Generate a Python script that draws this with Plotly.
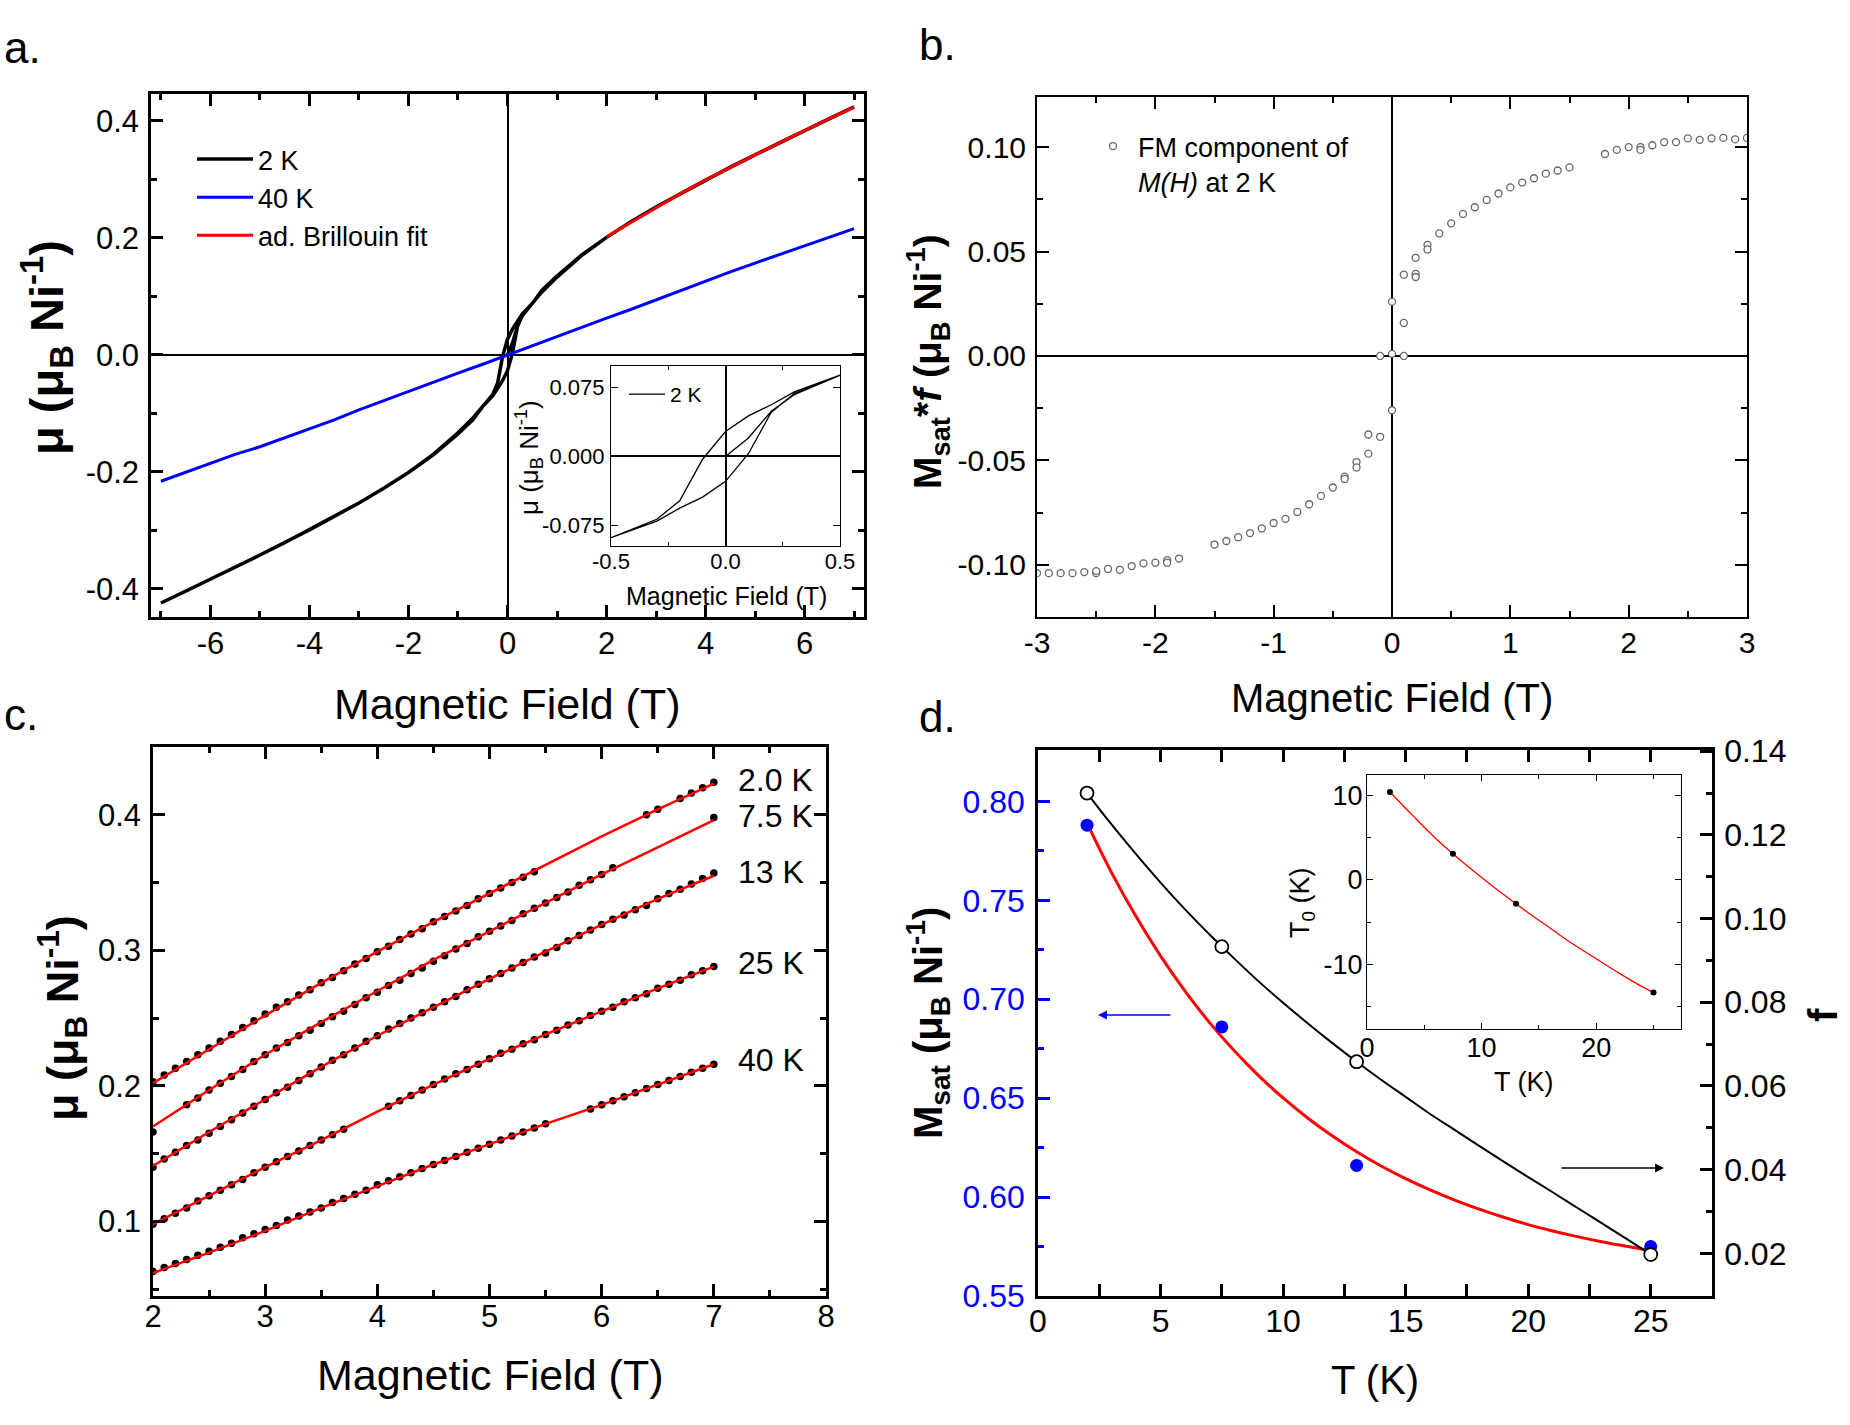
import plotly.graph_objects as go

FONT = "Liberation Sans, Arial, sans-serif"

# ---------------- Panel a: M(H) at 2 K and 40 K ----------------
H_2K = [0, 0.1, 0.2, 0.3, 0.5, 0.7, 1, 1.5, 2, 2.5, 3, 3.5, 4, 4.5, 5, 5.5, 6, 6.5, 7,
        7, 6.5, 6, 5.5, 5, 4.5, 4, 3.5, 3, 2.5, 2, 1.5, 1, 0.7, 0.5, 0.3, 0.2, 0.1, 0,
        -0.1, -0.2, -0.3, -0.5, -0.7, -1, -1.5, -2, -2.5, -3, -3.5, -4, -4.5, -5, -5.5, -6, -6.5, -7,
        -7, -6.5, -6, -5.5, -5, -4.5, -4, -3.5, -3, -2.5, -2, -1.5, -1, -0.7, -0.5, -0.3, -0.2, -0.1,
        0, 0.1, 0.2, 0.3, 0.5, 0.7, 1, 1.5, 2, 2.5, 3, 3.5, 4, 4.5, 5, 5.5, 6, 6.5, 7]
M_2K = [0, 0.020, 0.049, 0.067, 0.088, 0.108, 0.133, 0.170, 0.201, 0.228, 0.253, 0.276, 0.299, 0.321, 0.342, 0.363, 0.384, 0.404, 0.424,
        0.424, 0.404, 0.384, 0.363, 0.342, 0.321, 0.299, 0.276, 0.253, 0.228, 0.201, 0.171, 0.135, 0.111, 0.088, 0.070, 0.056, 0.044, 0.027,
        -0.003, -0.048, -0.068, -0.088, -0.108, -0.133, -0.170, -0.201, -0.228, -0.253, -0.276, -0.299, -0.321, -0.342, -0.363, -0.384, -0.404, -0.424,
        -0.424, -0.404, -0.384, -0.363, -0.342, -0.321, -0.299, -0.276, -0.253, -0.228, -0.201, -0.171, -0.135, -0.111, -0.088, -0.070, -0.056, -0.044,
        -0.027, 0.003, 0.048, 0.068, 0.088, 0.108, 0.133, 0.170, 0.201, 0.228, 0.253, 0.276, 0.299, 0.321, 0.342, 0.363, 0.384, 0.404, 0.424]

H_40K = [-7, -6.5, -6, -5.5, -5, -4.5, -4, -3.5, -3, -2.5, -2, -1.5, -1, -0.5, 0,
         0.5, 1, 1.5, 2, 2.5, 3, 3.5, 4, 4.5, 5, 5.5, 6, 6.5, 7]
M_40K = [-0.216, -0.201, -0.186, -0.170, -0.157, -0.142, -0.127, -0.111, -0.094, -0.078, -0.063, -0.047, -0.031, -0.016, 0.0,
         0.016, 0.031, 0.047, 0.063, 0.078, 0.094, 0.110, 0.127, 0.142, 0.157, 0.172, 0.187, 0.201, 0.216]

H_fit = [2, 2.5, 3, 3.5, 4, 4.5, 5, 5.5, 6, 6.5, 7]
fit_20K = [0.202, 0.227, 0.252, 0.276, 0.299, 0.321, 0.342, 0.363, 0.384, 0.404, 0.423]
fit_75K = [0.170, 0.197, 0.223, 0.247, 0.270, 0.293, 0.314, 0.335, 0.356, 0.376, 0.396]
fit_13K = [0.141, 0.166, 0.190, 0.214, 0.237, 0.258, 0.279, 0.299, 0.319, 0.338, 0.355]
fit_25K = [0.098, 0.119, 0.140, 0.160, 0.181, 0.201, 0.220, 0.238, 0.255, 0.272, 0.288]
fit_40K = [0.062, 0.077, 0.093, 0.110, 0.126, 0.142, 0.157, 0.172, 0.186, 0.201, 0.216]

# ---------------- Panel b: FM component ----------------
B_H = [-3.0, -2.9, -2.8, -2.7, -2.6, -2.5, -2.5, -2.4, -2.3, -2.2, -2.1, -2.0, -1.9, -1.9, -1.8,
       -1.5, -1.4, -1.3, -1.2, -1.1, -1.0, -0.9, -0.8, -0.7, -0.6, -0.5, -0.4, -0.4, -0.3, -0.3, -0.2, -0.2, -0.1, -0.1,
       0.0, 0.0, 0.0, 0.1, 0.1, 0.1, 0.2, 0.2, 0.2, 0.3, 0.3, 0.4, 0.5, 0.6, 0.7, 0.8, 0.9, 1.0, 1.1, 1.2, 1.3, 1.4, 1.5,
       1.8, 1.9, 2.0, 2.1, 2.1, 2.2, 2.3, 2.4, 2.5, 2.6, 2.7, 2.8, 2.9, 3.0]
B_M = [-0.104, -0.104, -0.104, -0.104, -0.1035, -0.104, -0.103, -0.102, -0.1024, -0.1006, -0.0993, -0.099, -0.0978, -0.099, -0.097,
       -0.0903, -0.0886, -0.0868, -0.0848, -0.0826, -0.080, -0.078, -0.0747, -0.071, -0.067, -0.063, -0.0578, -0.0589, -0.0508, -0.0534, -0.0468, -0.0376, -0.0387, 0.0,
       0.026, 0.001, -0.026, 0.0389, 0.0158, 0.0, 0.047, 0.0393, 0.0378, 0.0532, 0.051, 0.0587, 0.0635, 0.068, 0.0712, 0.0747, 0.0778, 0.0807, 0.083, 0.0851, 0.0873, 0.0888, 0.0903,
       0.0967, 0.0987, 0.100, 0.100, 0.0987, 0.1009, 0.1024, 0.1024, 0.1042, 0.1035, 0.1042, 0.1044, 0.1037, 0.1044]

# ---------------- Panel c: high-field data ----------------
H_c20 = [2.0, 2.1, 2.2, 2.3, 2.4, 2.5, 2.6, 2.7, 2.8, 2.9, 3.0, 3.1, 3.2, 3.3, 3.4, 3.5, 3.6, 3.7, 3.8, 3.9,
         4.0, 4.1, 4.2, 4.3, 4.4, 4.5, 4.6, 4.7, 4.8, 4.9, 5.0, 5.1, 5.2, 5.3, 5.4, 6.4, 6.5, 6.7, 6.8, 6.9, 7.0]
M_c20 = [0.203, 0.208, 0.213, 0.218, 0.223, 0.228, 0.233, 0.238, 0.243, 0.248, 0.253, 0.258, 0.262, 0.267, 0.271, 0.276, 0.280, 0.285, 0.290, 0.294,
         0.299, 0.303, 0.308, 0.312, 0.316, 0.321, 0.325, 0.329, 0.333, 0.338, 0.342, 0.346, 0.350, 0.354, 0.358, 0.400, 0.404, 0.412, 0.416, 0.420, 0.424]
H_c75 = [2.0, 2.3, 2.4, 2.5, 2.6, 2.7, 2.8, 2.9, 3.0, 3.1, 3.2, 3.3, 3.4, 3.5, 3.6, 3.7, 3.8, 3.9, 4.0, 4.1,
         4.2, 4.3, 4.4, 4.5, 4.6, 4.7, 4.8, 4.9, 5.0, 5.1, 5.2, 5.3, 5.4, 5.5, 5.6, 5.7, 5.8, 5.9, 6.0, 6.1, 7.0]
M_c75 = [0.166, 0.186, 0.191, 0.197, 0.202, 0.207, 0.212, 0.218, 0.223, 0.228, 0.232, 0.237, 0.241, 0.246, 0.251, 0.255, 0.260, 0.265, 0.269, 0.274,
         0.278, 0.283, 0.287, 0.292, 0.296, 0.301, 0.305, 0.310, 0.314, 0.318, 0.322, 0.327, 0.331, 0.335, 0.339, 0.343, 0.348, 0.352, 0.356, 0.361, 0.398]
H_c13 = [2.0, 2.1, 2.2, 2.3, 2.4, 2.5, 2.6, 2.7, 2.8, 2.9, 3.0, 3.1, 3.2, 3.3, 3.4, 3.5, 3.6, 3.7, 3.8, 3.9,
         4.0, 4.1, 4.2, 4.3, 4.4, 4.5, 4.6, 4.7, 4.8, 4.9, 5.0, 5.1, 5.2, 5.3, 5.4, 5.5, 5.6, 5.7, 5.8, 5.9,
         6.0, 6.1, 6.2, 6.3, 6.4, 6.5, 6.6, 6.7, 6.8, 6.9, 7.0]
M_c13 = [0.140, 0.146, 0.151, 0.156, 0.160, 0.165, 0.170, 0.175, 0.180, 0.185, 0.190, 0.195, 0.199, 0.204, 0.209, 0.214, 0.219, 0.223, 0.228, 0.233,
         0.237, 0.242, 0.246, 0.250, 0.254, 0.258, 0.262, 0.266, 0.271, 0.275, 0.279, 0.283, 0.287, 0.291, 0.295, 0.298, 0.302, 0.307, 0.311, 0.315,
         0.319, 0.323, 0.326, 0.330, 0.333, 0.338, 0.342, 0.345, 0.349, 0.353, 0.357]
H_c25 = [2.0, 2.1, 2.2, 2.3, 2.4, 2.5, 2.6, 2.7, 2.8, 2.9, 3.0, 3.1, 3.2, 3.3, 3.4, 3.5, 3.6, 3.7,
         4.1, 4.2, 4.3, 4.4, 4.5, 4.6, 4.7, 4.8, 4.9, 5.0, 5.1, 5.2, 5.3, 5.4, 5.5, 5.6, 5.7, 5.8, 5.9,
         6.0, 6.1, 6.2, 6.3, 6.4, 6.5, 6.6, 6.7, 6.8, 6.9, 7.0]
M_c25 = [0.098, 0.102, 0.106, 0.110, 0.115, 0.119, 0.123, 0.127, 0.131, 0.136, 0.140, 0.144, 0.148, 0.152, 0.156, 0.160, 0.164, 0.168,
         0.185, 0.189, 0.193, 0.197, 0.201, 0.205, 0.209, 0.212, 0.216, 0.220, 0.224, 0.227, 0.231, 0.234, 0.238, 0.241, 0.245, 0.248, 0.252,
         0.255, 0.258, 0.262, 0.265, 0.268, 0.272, 0.275, 0.278, 0.282, 0.285, 0.288]
H_c40 = [2.0, 2.1, 2.2, 2.3, 2.4, 2.5, 2.6, 2.7, 2.8, 2.9, 3.0, 3.1, 3.2, 3.3, 3.4, 3.5, 3.6, 3.7, 3.8, 3.9,
         4.0, 4.1, 4.2, 4.3, 4.4, 4.5, 4.6, 4.7, 4.8, 4.9, 5.0, 5.1, 5.2, 5.3, 5.4, 5.5,
         5.9, 6.0, 6.1, 6.2, 6.3, 6.4, 6.5, 6.6, 6.7, 6.8, 6.9, 7.0]
M_c40 = [0.063, 0.066, 0.069, 0.072, 0.075, 0.078, 0.081, 0.084, 0.088, 0.091, 0.094, 0.097, 0.101, 0.104, 0.107, 0.110, 0.114, 0.117, 0.120, 0.123,
         0.127, 0.130, 0.133, 0.136, 0.139, 0.142, 0.145, 0.148, 0.151, 0.154, 0.157, 0.160, 0.163, 0.166, 0.169, 0.172,
         0.183, 0.186, 0.189, 0.192, 0.195, 0.198, 0.201, 0.204, 0.207, 0.210, 0.213, 0.216]
c_labels = ["2.0 K", "7.5 K", "13 K", "25 K", "40 K"]

# ---------------- Panel d ----------------
T_d = [2, 7.5, 13, 25]
Msat = [0.788, 0.686, 0.616, 0.575]
f_d = [0.1300, 0.0933, 0.0658, 0.0197]
T_dfit = [2, 3, 4, 5, 6, 7, 8, 9, 10, 11, 12, 13, 14, 15, 16, 17, 18, 19, 20, 21, 22, 23, 24, 25]
Msat_fit = [0.7890, 0.7640, 0.7418, 0.7219, 0.7041, 0.6882, 0.6741, 0.6614, 0.6501, 0.6400, 0.6310, 0.6229,
            0.6157, 0.6093, 0.6036, 0.5985, 0.5939, 0.5898, 0.5861, 0.5829, 0.5800, 0.5774, 0.5751, 0.5730]
f_fit = [0.1300, 0.1225, 0.1154, 0.1086, 0.1022, 0.0962, 0.0905, 0.0850, 0.0799, 0.0750, 0.0703, 0.0658,
         0.0615, 0.0574, 0.0533, 0.0495, 0.0457, 0.0419, 0.0382, 0.0346, 0.0309, 0.0272, 0.0235, 0.0197]
T0 = [10.4, 3.1, -2.8, -13.3]
T_t0fit = [2, 4, 6, 8, 10, 12, 14, 16, 18, 20, 22, 24, 25]
T0_fit = [10.4, 7.6, 4.9, 2.5, 0.3, -1.8, -3.8, -5.7, -7.6, -9.3, -11.0, -12.6, -13.3]

# ---------------- tick labels ----------------
a_xt = [-6, -4, -2, 0, 2, 4, 6]; a_xl = ["-6", "-4", "-2", "0", "2", "4", "6"]
a_xm = [-7, -5, -3, -1, 1, 3, 5, 7]
a_yt = [-0.4, -0.2, 0.0, 0.2, 0.4]; a_yl = ["-0.4", "-0.2", "0.0", "0.2", "0.4"]
a_ym = [-0.3, -0.1, 0.1, 0.3]
ia_xt = [-0.5, 0.0, 0.5]; ia_xl = ["-0.5", "0.0", "0.5"]; ia_xm = [-0.25, 0.25]
ia_yt = [-0.075, 0.0, 0.075]; ia_yl = ["-0.075", "0.000", "0.075"]; ia_ym = []
b_xt = [-3, -2, -1, 0, 1, 2, 3]; b_xl = ["-3", "-2", "-1", "0", "1", "2", "3"]
b_xm = [-2.5, -1.5, -0.5, 0.5, 1.5, 2.5]
b_yt = [-0.10, -0.05, 0.0, 0.05, 0.10]; b_yl = ["-0.10", "-0.05", "0.00", "0.05", "0.10"]
b_ym = [-0.125, -0.075, -0.025, 0.025, 0.075]
c_xt = [2, 3, 4, 5, 6, 7, 8]; c_xl = ["2", "3", "4", "5", "6", "7", "8"]
c_xm = [2.5, 3.5, 4.5, 5.5, 6.5, 7.5]
c_yt = [0.1, 0.2, 0.3, 0.4]; c_yl = ["0.1", "0.2", "0.3", "0.4"]
c_ym = [0.05, 0.15, 0.25, 0.35]
d_xt = [0, 5, 10, 15, 20, 25]; d_xl = ["0", "5", "10", "15", "20", "25"]
d_xm = [2.5, 7.5, 12.5, 17.5, 22.5]
d_yt = [0.55, 0.60, 0.65, 0.70, 0.75, 0.80]; d_yl = ["0.55", "0.60", "0.65", "0.70", "0.75", "0.80"]
d_ym = [0.575, 0.625, 0.675, 0.725, 0.775]
d_y2t = [0.02, 0.04, 0.06, 0.08, 0.10, 0.12, 0.14]; d_y2l = ["0.02", "0.04", "0.06", "0.08", "0.10", "0.12", "0.14"]
d_y2m = [0.01, 0.03, 0.05, 0.07, 0.09, 0.11, 0.13]
id_xt = [0, 10, 20]; id_xl = ["0", "10", "20"]; id_xm = [5, 15, 25]
id_yt = [-10, 0, 10]; id_yl = ["-10", "0", "10"]; id_ym = [-15, -5, 5]

BLUE = "#0000ff"
RED = "#ff0000"

fig = go.Figure()

# panel a
fig.add_trace(go.Scatter(x=H_2K, y=M_2K, mode="lines", name="2 K", line=dict(color="black", width=3.5),
                         xaxis="x", yaxis="y", legend="legend"))
fig.add_trace(go.Scatter(x=H_40K, y=M_40K, mode="lines", name="40 K", line=dict(color=BLUE, width=3),
                         xaxis="x", yaxis="y", legend="legend"))
fig.add_trace(go.Scatter(x=H_fit, y=fit_20K, mode="lines", name="ad. Brillouin fit", line=dict(color=RED, width=3),
                         xaxis="x", yaxis="y", legend="legend"))
# inset a
fig.add_trace(go.Scatter(x=H_2K, y=M_2K, mode="lines", name="2 K", line=dict(color="black", width=1.3),
                         xaxis="x2", yaxis="y2", legend="legend2"))
# panel b
fig.add_trace(go.Scatter(x=B_H, y=B_M, mode="markers", name="FM component of<br><i>M(H)</i> at 2 K",
                         marker=dict(symbol="circle", size=7, color="white", line=dict(color="#666666", width=1.3)),
                         xaxis="x3", yaxis="y3", legend="legend3"))
# panel c
for hx, my in [(H_c20, M_c20), (H_c75, M_c75), (H_c13, M_c13), (H_c25, M_c25), (H_c40, M_c40)]:
    fig.add_trace(go.Scatter(x=hx, y=my, mode="markers", showlegend=False,
                             marker=dict(size=7.5, color="black"), xaxis="x4", yaxis="y4"))
for fy in [fit_20K, fit_75K, fit_13K, fit_25K, fit_40K]:
    fig.add_trace(go.Scatter(x=H_fit, y=fy, mode="lines", showlegend=False, line=dict(color=RED, width=2.5),
                             xaxis="x4", yaxis="y4"))
# panel d
fig.add_trace(go.Scatter(x=T_dfit, y=Msat_fit, mode="lines", showlegend=False, line=dict(color=RED, width=3, shape="spline"),
                         xaxis="x5", yaxis="y5"))
fig.add_trace(go.Scatter(x=T_d, y=Msat, mode="markers", showlegend=False, marker=dict(size=13, color=BLUE),
                         xaxis="x5", yaxis="y5", cliponaxis=False))
fig.add_trace(go.Scatter(x=T_dfit, y=f_fit, mode="lines", showlegend=False, line=dict(color="black", width=2, shape="spline"),
                         xaxis="x5", yaxis="y6"))
fig.add_trace(go.Scatter(x=T_d, y=f_d, mode="markers", showlegend=False,
                         marker=dict(size=13, color="white", line=dict(color="black", width=1.8)),
                         xaxis="x5", yaxis="y6", cliponaxis=False))
# inset d
fig.add_trace(go.Scatter(x=T_t0fit, y=T0_fit, mode="lines", showlegend=False, line=dict(color=RED, width=1.3, shape="spline"),
                         xaxis="x7", yaxis="y7"))
fig.add_trace(go.Scatter(x=T_d, y=T0, mode="markers", showlegend=False, marker=dict(size=6, color="black"),
                         xaxis="x7", yaxis="y7"))


def axis(domain, anchor, rng, tv, tt, mv, fs, lw=2.5, tl=12, ml=6, mirror="allticks", color="black",
         standoff=0, zeroline=False, side=None, overlaying=None):
    d = dict(domain=domain, anchor=anchor, range=rng, showline=True, linecolor="black", linewidth=lw,
             mirror=mirror, ticks="inside", ticklen=tl, tickwidth=lw, tickcolor=color,
             tickmode="array", tickvals=tv, ticktext=tt, automargin=False,
             tickfont=dict(size=fs, color=color, family=FONT), showgrid=False,
             zeroline=zeroline, zerolinecolor="black", zerolinewidth=2,
             minor=dict(ticks="inside", ticklen=ml, tickwidth=lw, tickcolor=color, tickmode="array", tickvals=mv),
             ticklabelstandoff=standoff)
    if side:
        d["side"] = side
    if overlaying:
        d["overlaying"] = overlaying
    return d


W, Hh = 1850, 1425


def dx(a, b):
    return [a / W, b / W]


def dy(top, bottom):
    return [1 - bottom / Hh, 1 - top / Hh]


layout = dict(
    width=W, height=Hh, margin=dict(l=0, r=0, t=0, b=0, autoexpand=False),
    paper_bgcolor="white", plot_bgcolor="white",
    font=dict(family=FONT, color="black"),
    xaxis=axis(dx(151, 864), "y", [-7.2, 7.2], a_xt, a_xl, a_xm, 31, zeroline=True, standoff=-3),
    yaxis=axis(dy(94, 617), "x", [-0.448, 0.446], a_yt, a_yl, a_ym, 31, zeroline=True, standoff=3),
    xaxis2=axis(dx(611, 840), "y2", [-0.5, 0.5], ia_xt, ia_xl, ia_xm, 22, lw=1.3, tl=7, ml=4, zeroline=True, standoff=-5),
    yaxis2=axis(dy(366, 546), "x2", [-0.097, 0.098], ia_yt, ia_yl, ia_ym, 22, lw=1.3, tl=7, ml=4, zeroline=True, standoff=1),
    xaxis3=axis(dx(1037, 1747), "y3", [-3, 3], b_xt, b_xl, b_xm, 30, lw=2, zeroline=True, standoff=-2),
    yaxis3=axis(dy(97, 617), "x3", [-0.125, 0.124], b_yt, b_yl, b_ym, 30, lw=2, zeroline=True, standoff=3),
    xaxis4=axis(dx(153, 826), "y4", [2, 8], c_xt, c_xl, c_xm, 31, standoff=-9),
    yaxis4=axis(dy(747, 1296), "x4", [0.045, 0.45], c_yt, c_yl, c_ym, 31, standoff=3),
    xaxis5=axis(dx(1038, 1712), "y5", [0, 27.5], d_xt, d_xl, d_xm, 32, standoff=-5),
    yaxis5=axis(dy(750, 1296), "x5", [0.55, 0.826], d_yt, d_yl, d_ym, 32, mirror=False, color=BLUE, standoff=4),
    yaxis6=axis(dy(750, 1296), "x5", [0.0098, 0.1403], d_y2t, d_y2l, d_y2m, 32, mirror=False, side="right",
                overlaying="y5", standoff=3),
    xaxis7=axis(dx(1367, 1681), "y7", [0, 27.4], id_xt, id_xl, id_xm, 27, lw=1.3, tl=6, ml=4, standoff=-6),
    yaxis7=axis(dy(775, 1029), "x7", [-17.6, 12.4], id_yt, id_yl, id_ym, 27, lw=1.3, tl=6, ml=4, standoff=-2),
    legend=dict(x=192 / W, y=1 - 135 / Hh, xanchor="left", yanchor="top", bgcolor="rgba(0,0,0,0)",
                font=dict(size=27, family=FONT), tracegroupgap=0, itemwidth=56),
    legend2=dict(x=624 / W, y=1 - 374 / Hh, xanchor="left", yanchor="top", bgcolor="rgba(0,0,0,0)",
                 font=dict(size=21, family=FONT), itemwidth=36),
    legend3=dict(x=1088 / W, y=1 - 122 / Hh, xanchor="left", yanchor="top", bgcolor="rgba(0,0,0,0)",
                 font=dict(size=27, family=FONT), valign="top", itemwidth=40),
)
fig.update_layout(**layout)


def ann(text, x, y, size, angle=0, xanchor="center", yanchor="middle", color="black"):
    fig.add_annotation(text=text, x=x / W, y=1 - y / Hh, xref="paper", yref="paper", showarrow=False,
                       textangle=angle, xanchor=xanchor, yanchor=yanchor,
                       font=dict(size=size, color=color, family=FONT))


# panel letters
ann("a.", 2, 47, 44, xanchor="left")
ann("b.", 917, 44, 44, xanchor="left")
ann("c.", 2, 714, 44, xanchor="left")
ann("d.", 917, 716, 44, xanchor="left")

# axis titles
ann("Magnetic Field (T)", 507, 704, 43)
ann("Magnetic Field (T)", 1392, 698, 40)
ann("Magnetic Field (T)", 490, 1375, 43)
ann("T (K)", 1375, 1380, 40)
ann("<b>μ (μ<sub>B</sub> Ni<sup>-1</sup>)</b>", 47, 348, 47, angle=-90)
ann("<b>M<sub>sat</sub>*<i>f</i> (μ<sub>B</sub> Ni<sup>-1</sup>)</b>", 928, 362, 39, angle=-90)
ann("<b>μ (μ<sub>B</sub> Ni<sup>-1</sup>)</b>", 62, 1018, 45, angle=-90)
ann("<b>M<sub>sat</sub> (μ<sub>B</sub> Ni<sup>-1</sup>)</b>", 928, 1023, 40, angle=-90)
ann("<b>f</b>", 1823, 1015, 40, angle=-90)
# inset titles
ann("Magnetic Field (T)", 726, 596, 25)
ann("μ (μ<sub>B</sub> Ni<sup>-1</sup>)", 529, 458, 26, angle=-90)
ann("T (K)", 1524, 1082, 27)
ann("T<sub>0</sub> (K)", 1302, 903, 27, angle=-90)

# panel c temperature labels, placed at end of each fit curve
for lab, fy in zip(c_labels, [fit_20K, fit_75K, fit_13K, fit_25K, fit_40K]):
    fig.add_annotation(text=lab, x=H_fit[-1] + 0.2, y=fy[-1] + 0.003, xref="x4", yref="y4", showarrow=False,
                       xanchor="left", yanchor="middle", font=dict(size=32, family=FONT, color="black"))

# arrows in panel d
fig.add_annotation(x=1098 / W, y=1 - 1015 / Hh, xref="paper", yref="paper", ax=74, ay=0, text="",
                   showarrow=True, arrowhead=2, arrowsize=1.2, arrowwidth=1.5, arrowcolor=BLUE)
fig.add_annotation(x=1664 / W, y=1 - 1168 / Hh, xref="paper", yref="paper", ax=-104, ay=0, text="",
                   showarrow=True, arrowhead=2, arrowsize=1.2, arrowwidth=1.5, arrowcolor="black")

fig.write_html("out.html")
